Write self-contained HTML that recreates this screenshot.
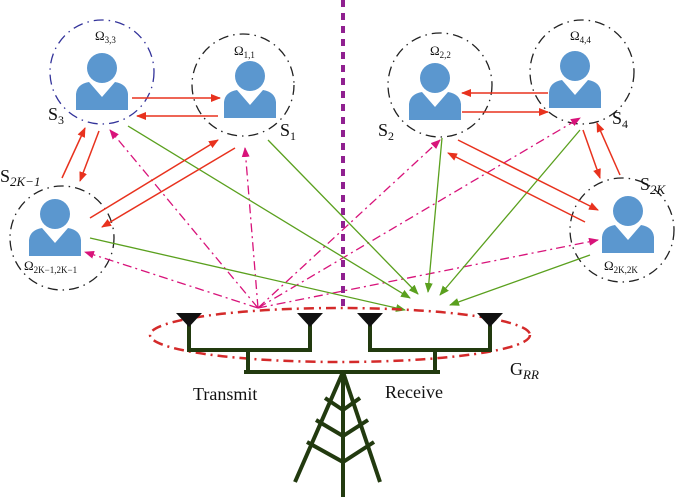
<!DOCTYPE html><html><head><style>body{margin:0;background:#fff}svg{display:block}</style></head><body>
<svg width="685" height="497" viewBox="0 0 685 497" xmlns="http://www.w3.org/2000/svg" font-family="Liberation Serif, serif">
<defs>
<marker id="r" markerWidth="10" markerHeight="8" refX="9" refY="4" orient="auto" markerUnits="userSpaceOnUse"><path d="M0,0L10,4L0,8z" fill="#e8321e"/></marker>
<marker id="g" markerWidth="10" markerHeight="8" refX="9" refY="4" orient="auto" markerUnits="userSpaceOnUse"><path d="M0,0L10,4L0,8z" fill="#5aa01e"/></marker>
<marker id="m" markerWidth="10" markerHeight="8" refX="9" refY="4" orient="auto" markerUnits="userSpaceOnUse"><path d="M0,0L10,4L0,8z" fill="#d8137a"/></marker>
<g id="u"><circle cx="0" cy="-14" r="15" fill="#5b97cf"/><path d="M-26,28 L-26,12 Q-25,2 -13,0 L0,15 L13,0 Q25,2 26,12 L26,28Z" fill="#5b97cf"/></g>
</defs>
<g fill="none" stroke-width="1.3" stroke-dasharray="10,5,1.5,5">
<circle cx="102" cy="72" r="52" stroke="#33339a"/>
<circle cx="243" cy="85" r="51" stroke="#222"/>
<circle cx="440" cy="85" r="52" stroke="#222"/>
<circle cx="582" cy="72" r="52" stroke="#222"/>
<circle cx="622" cy="230" r="52" stroke="#222"/>
<circle cx="62" cy="238" r="52" stroke="#222"/>
</g>
<line x1="343" y1="0" x2="343" y2="312" stroke="#902090" stroke-width="4" stroke-dasharray="7,6"/>
<g stroke="#d8137a" stroke-width="1.3" stroke-dasharray="9,4,2,4" fill="none" marker-end="url(#m)">
<line x1="258" y1="308" x2="110" y2="130"/>
<line x1="258" y1="308" x2="245" y2="148"/>
<line x1="258" y1="308" x2="85" y2="252"/>
<line x1="258" y1="308" x2="440" y2="140"/>
<line x1="258" y1="308" x2="580" y2="118"/>
<line x1="258" y1="308" x2="598" y2="240"/>
</g>
<g stroke="#5aa01e" stroke-width="1.3" marker-end="url(#g)">
<line x1="128" y1="126" x2="410" y2="298"/>
<line x1="268" y1="140" x2="418" y2="294"/>
<line x1="90" y1="238" x2="405" y2="310"/>
<line x1="442" y1="138" x2="428" y2="292"/>
<line x1="580" y1="130" x2="440" y2="295"/>
<line x1="590" y1="255" x2="450" y2="305"/>
</g>
<g stroke="#e8321e" stroke-width="1.5" marker-end="url(#r)">
<line x1="132" y1="98" x2="220" y2="98"/>
<line x1="218" y1="116" x2="137" y2="116"/>
<line x1="62" y1="178" x2="85" y2="128"/>
<line x1="99" y1="131" x2="80" y2="181"/>
<line x1="90" y1="218" x2="218" y2="140"/>
<line x1="235" y1="148" x2="102" y2="227"/>
<line x1="548" y1="93" x2="462" y2="93"/>
<line x1="462" y1="112" x2="548" y2="112"/>
<line x1="583" y1="130" x2="600" y2="178"/>
<line x1="620" y1="175" x2="597" y2="123"/>
<line x1="458" y1="140" x2="598" y2="210"/>
<line x1="585" y1="222" x2="448" y2="153"/>
</g>
<use href="#u" x="102" y="82"/><use href="#u" x="250" y="90"/><use href="#u" x="435" y="92"/><use href="#u" x="575" y="80"/><use href="#u" x="628" y="225"/><use href="#u" x="55" y="228"/>
<ellipse cx="340" cy="335" rx="190" ry="27" fill="none" stroke="#d42a2a" stroke-width="2.5" stroke-dasharray="10,5,2,5"/>
<g stroke="#223a0f" stroke-width="4" fill="none">
<path d="M189,325V350H310V325M370,325V350H490V325M248,350V372M435,350V372M244,372H440"/>
<path d="M343,372L295,482M343,372L380,482M343,372V497M325,398L343,410L360,398M316,420L343,436L368,420M307,442L343,462L374,442"/>
</g>
<g fill="#111"><path d="M176,313H202L189,327z"/><path d="M297,313H323L310,327z"/><path d="M357,313H383L370,327z"/><path d="M477,313H503L490,327z"/></g>
<g font-size="18" fill="#111">
<text x="193" y="400">Transmit</text><text x="385" y="398">Receive</text>
<text x="510" y="375">G<tspan font-size="13" font-style="italic" dy="4">RR</tspan></text>
<text x="48" y="120">S<tspan font-size="12" dy="4">3</tspan></text>
<text x="280" y="136">S<tspan font-size="12" dy="4">1</tspan></text>
<text x="378" y="136">S<tspan font-size="12" dy="4">2</tspan></text>
<text x="612" y="124">S<tspan font-size="12" dy="4">4</tspan></text>
<text x="0" y="182">S<tspan font-size="13" font-style="italic" dy="4">2K−1</tspan></text>
<text x="640" y="190">S<tspan font-size="13" font-style="italic" dy="4">2K</tspan></text>
</g>
<g font-size="13" fill="#111">
<text x="95" y="40">Ω<tspan font-size="9" dy="3">3,3</tspan></text>
<text x="234" y="55">Ω<tspan font-size="9" dy="3">1,1</tspan></text>
<text x="430" y="55">Ω<tspan font-size="9" dy="3">2,2</tspan></text>
<text x="570" y="40">Ω<tspan font-size="9" dy="3">4,4</tspan></text>
<text x="604" y="270">Ω<tspan font-size="9" dy="3">2K,2K</tspan></text>
<text x="24" y="270">Ω<tspan font-size="9" dy="3">2K−1,2K−1</tspan></text>
</g>
</svg></body></html>
